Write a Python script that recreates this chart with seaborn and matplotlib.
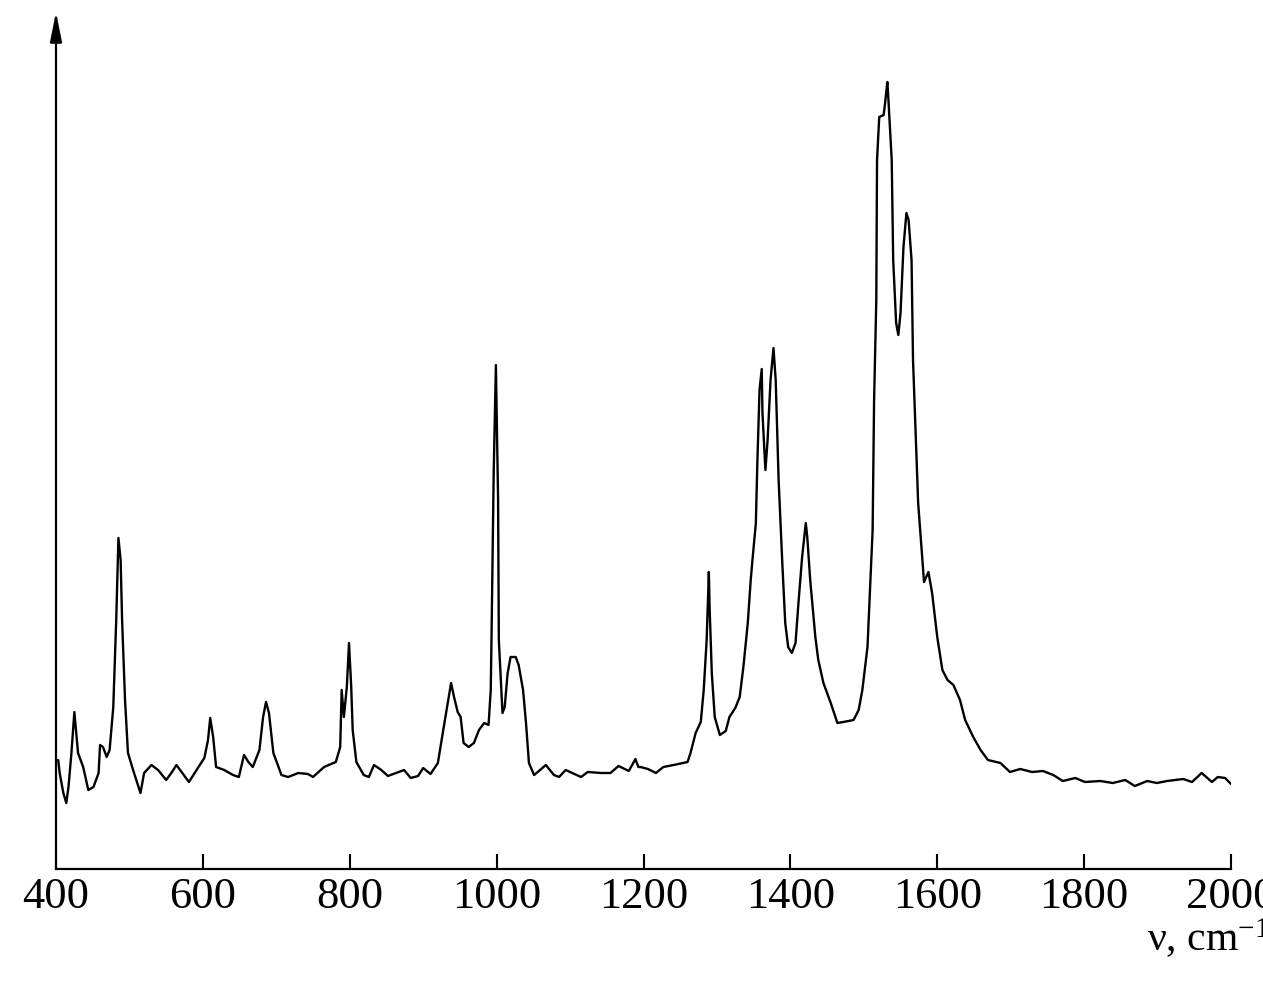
import numpy as np
import pandas as pd
import matplotlib
matplotlib.use("Agg")
import matplotlib.pyplot as plt
from matplotlib.patches import ArrowStyle
import seaborn as sns

# Raman spectrum (wavenumber in cm^-1, intensity in a.u.)
wavenumber = [
    403, 405, 410, 414, 417, 421, 425, 428, 430, 437, 444, 451, 458, 460, 464, 469,
    473, 478, 482, 485, 488, 490, 494, 498, 505, 515, 520, 530, 539, 550, 557, 564,
    571, 581, 594, 602, 607, 610, 614, 618, 629, 641, 649, 656, 662, 668, 677, 682,
    686, 690, 696, 707, 716, 730, 743, 750, 765, 781, 787, 789, 792, 796, 799, 802,
    804, 809, 819, 826, 833, 843, 852, 863, 874, 883, 893, 900, 910, 920, 928, 938,
    942, 947, 951, 955, 962, 969, 976, 983, 989, 992, 993, 996, 999, 1002, 1003, 1008,
    1011, 1015, 1019, 1026, 1030, 1036, 1040, 1044, 1051, 1056, 1067, 1078, 1085, 1094,
    1115, 1124, 1142, 1155, 1166, 1180, 1189, 1193, 1196, 1206, 1217, 1227, 1241, 1260,
    1264, 1271, 1278, 1282, 1286, 1289, 1290, 1293, 1297, 1304, 1312, 1317, 1325, 1331,
    1336, 1342, 1346, 1348, 1353, 1355, 1358, 1361, 1362, 1366, 1369, 1373, 1377, 1380,
    1384, 1389, 1393, 1397, 1402, 1407, 1411, 1416, 1421, 1423, 1427, 1434, 1438, 1445,
    1455, 1464, 1472, 1486, 1493, 1498, 1505, 1512, 1514, 1517, 1518, 1521, 1527, 1529,
    1532, 1533, 1538, 1540, 1544, 1547, 1550, 1554, 1558, 1561, 1565, 1567, 1570, 1573,
    1574, 1580, 1582, 1588, 1593, 1600, 1607, 1614, 1622, 1631, 1638, 1649, 1659, 1669,
    1686, 1699, 1713, 1729, 1744, 1758, 1771, 1788, 1801, 1822, 1839, 1856, 1869, 1886,
    1899, 1913, 1935, 1947, 1960, 1974, 1982, 1992, 2000,
]
intensity = [
    10.9, 9.6, 7.6, 6.6, 8.2, 11.6, 15.7, 13.2, 11.6, 10.2, 7.9, 8.2, 9.6, 12.4, 12.2, 11.2,
    11.9, 16.2, 24.9, 33.1, 30.9, 24.9, 16.9, 11.6, 9.9, 7.6, 9.6, 10.4, 9.9, 8.9, 9.6, 10.4,
    9.7, 8.7, 10.2, 11.1, 12.9, 15.1, 13.2, 10.2, 9.9, 9.4, 9.2, 11.4, 10.7, 10.2, 11.9, 15.2,
    16.7, 15.6, 11.6, 9.4, 9.2, 9.6, 9.5, 9.2, 10.2, 10.7, 12.2, 17.9, 15.2, 18.2, 22.6, 18.2,
    13.9, 10.7, 9.4, 9.2, 10.4, 9.9, 9.3, 9.6, 9.9, 9.1, 9.3, 10.1, 9.5, 10.6, 14.2, 18.6,
    17.2, 15.7, 15.2, 12.6, 12.2, 12.6, 13.9, 14.6, 14.4, 17.9, 22.9, 39.6, 50.4, 36.9, 22.9, 15.6,
    16.2, 19.6, 21.2, 21.2, 20.4, 17.9, 14.6, 10.6, 9.4, 9.7, 10.4, 9.4, 9.2, 9.9,
    9.2, 9.7, 9.6, 9.6, 10.3, 9.8, 11.0, 10.2, 10.2, 10.0, 9.6, 10.2, 10.4, 10.7,
    11.6, 13.6, 14.7, 17.9, 22.9, 29.7, 26.2, 19.6, 15.2, 13.4, 13.8, 15.2, 16.1, 17.2,
    20.2, 24.6, 28.9, 30.6, 34.6, 40.6, 47.9, 50.0, 45.6, 39.9, 42.9, 48.9, 52.1, 48.9,
    38.9, 30.6, 24.6, 22.2, 21.6, 22.6, 26.6, 31.2, 34.6, 33.2, 28.9, 23.2, 20.9, 18.6,
    16.6, 14.6, 14.7, 14.9, 15.9, 17.9, 22.2, 33.9, 46.9, 56.9, 70.9, 75.2, 75.4, 76.6,
    78.7, 77.6, 70.9, 60.9, 54.6, 53.4, 55.6, 62.2, 65.6, 64.9, 60.9, 50.9, 44.9, 39.2,
    36.6, 30.6, 28.7, 29.7, 27.6, 23.2, 19.9, 18.9, 18.4, 16.9, 14.9, 13.2, 11.9, 10.9,
    10.6, 9.7, 10.0, 9.7, 9.8, 9.4, 8.8, 9.1, 8.7, 8.8, 8.6, 8.9, 8.3, 8.8,
    8.6, 8.8, 9.0, 8.7, 9.6, 8.7, 9.2, 9.1, 8.5,
]
xticks = [400, 600, 800, 1000, 1200, 1400, 1600, 1800, 2000]

df = pd.DataFrame({"nu": wavenumber, "I": intensity})

sns.set_style("ticks")
plt.rcParams["font.family"] = ["Liberation Serif", "DejaVu Serif"]
plt.rcParams["text.color"] = "black"
plt.rcParams["mathtext.fontset"] = "custom"
plt.rcParams["mathtext.rm"] = "Liberation Serif"
plt.rcParams["mathtext.it"] = "Liberation Serif:italic"

W, H = 1263, 985
fig = plt.figure(figsize=(W / 100, H / 100), dpi=100)
ax = fig.add_axes([56 / W, (H - 869) / H, (1231 - 56) / W, (869 - 12) / H])

sns.lineplot(data=df, x="nu", y="I", ax=ax, color="black", linewidth=1.7,
             estimator=None, sort=False)

ax.set_xlim(400, 2000)
ax.set_ylim(0, 85.7)
ax.set_xticks(xticks)
ax.set_xticklabels([str(t) for t in xticks])
ax.set_yticks([])
ax.set_xlabel("")
ax.set_ylabel("")

for side in ["top", "right", "left"]:
    ax.spines[side].set_visible(False)
ax.spines["bottom"].set_linewidth(1.6)
ax.spines["bottom"].set_color("black")
ax.tick_params(axis="x", direction="in", length=11, width=1.5, colors="black",
               labelsize=32, pad=6)

# y axis drawn as an arrow
ax.annotate("", xy=(0, 1), xytext=(0, 0), xycoords="axes fraction",
            arrowprops=dict(arrowstyle=ArrowStyle("-|>", head_length=1.0, head_width=0.2),
                            mutation_scale=18, color="black", lw=1.6,
                            shrinkA=0, shrinkB=0),
            annotation_clip=False)

fig.text(1147 / W, (H - 951) / H, r"ν, cm$^{-1}$", fontsize=30, ha="left",
         va="baseline", color="black")

fig.savefig("out.png", dpi=100)
